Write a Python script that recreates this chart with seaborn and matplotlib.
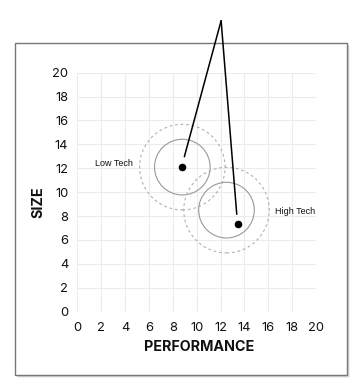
import matplotlib
matplotlib.use("Agg")
import matplotlib.pyplot as plt
import matplotlib.patches as mpatches
import seaborn as sns
import pandas as pd

# ---- data ----
labels = ["Low Tech", "High Tech"]
perf = [8.8, 13.5]          # dot x
size = [12.1, 7.3]          # dot y
circle_x = [8.8, 12.5]      # circle centre x
circle_y = [12.1, 8.5]      # circle centre y
inner_r = [2.33, 2.33]
outer_r = [3.58, 3.58]
apex = (12.05, 24.35)
line_end_x = [8.97, 13.36]
line_end_y = [12.97, 8.15]
label_x = [4.64, 16.57]
label_y = [12.36, 8.37]
ticks = list(range(0, 21, 2))

df = pd.DataFrame({"label": labels, "PERFORMANCE": perf, "SIZE": size})

sns.set_style("white")
plt.rcParams["font.family"] = ["Inter", "DejaVu Sans"]

W, H = 360, 389
fig = plt.figure(figsize=(W / 100, H / 100), dpi=100)

# frame with soft shadow
fx0, fy0, fx1, fy1 = 14.5, 42.5, 347, 375
for off, a in [(3, 0.06), (2, 0.10), (1, 0.14)]:
    fig.patches.append(mpatches.Rectangle(((fx0 + off) / W, 1 - (fy1 + off) / H),
                                          (fx1 - fx0) / W, (fy1 - fy0) / H,
                                          transform=fig.transFigure, facecolor="black",
                                          alpha=a, edgecolor="none", zorder=0))
fig.patches.append(mpatches.Rectangle((fx0 / W, 1 - fy1 / H), (fx1 - fx0) / W, (fy1 - fy0) / H,
                                      transform=fig.transFigure, facecolor="white",
                                      edgecolor="#777777", lw=1.0, zorder=1))

ax = fig.add_axes([77.3 / W, 1 - 311.7 / H, (316 - 77.3) / W, (311.7 - 72.7) / H])
ax.set_zorder(2)
ax.patch.set_alpha(0)

ax.set_xlim(0, 20)
ax.set_ylim(0, 20)
ax.set_xticks(ticks)
ax.set_yticks(ticks)
ax.grid(True, color="#ececec", lw=0.8)
ax.set_axisbelow(True)
for s in ax.spines.values():
    s.set_visible(False)
ax.tick_params(axis="x", length=0, pad=7.5, labelsize=9.3, colors="#111111")
ax.tick_params(axis="y", length=0, pad=6.5, labelsize=9.3, colors="#111111")

# circles
for cx, cy, r1, r2 in zip(circle_x, circle_y, inner_r, outer_r):
    ax.add_patch(mpatches.Circle((cx, cy), r2, fill=False, edgecolor="#b0b0b0",
                                 lw=0.8, ls=(0, (2.5, 2.5)), zorder=3))
    ax.add_patch(mpatches.Circle((cx, cy), r1, fill=False, edgecolor="#999999",
                                 lw=0.8, zorder=3))

# leader lines
for ex, ey in zip(line_end_x, line_end_y):
    ax.plot([apex[0], ex], [apex[1], ey], color="black", lw=1.1, clip_on=False, zorder=4)

sns.scatterplot(data=df, x="PERFORMANCE", y="SIZE", color="black", s=30,
                edgecolor="black", linewidth=0, ax=ax, zorder=5, legend=False)

ax.text(label_x[0], label_y[0], labels[0], ha="right", va="center", fontsize=6.5,
        family=["Liberation Sans"], color="#111111")
ax.text(label_x[1], label_y[1], labels[1], ha="left", va="center", fontsize=6.5,
        family=["Liberation Sans"], color="#111111")

ax.set_xlabel("PERFORMANCE", fontsize=10.3, fontweight="bold", color="#111111")
ax.set_ylabel("SIZE", fontsize=10.3, fontweight="bold", color="#111111")
ax.xaxis.set_label_coords(0.51, -0.117)
ax.xaxis.label.set_va("top")
ax.yaxis.set_label_coords(-0.135, 0.459)

fig.savefig("out.png", dpi=100)
